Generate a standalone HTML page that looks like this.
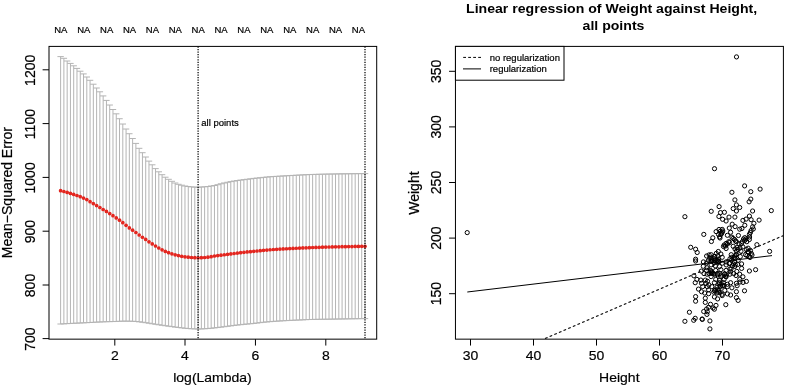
<!DOCTYPE html>
<html><head><meta charset="utf-8"><title>Linear regression of Weight against Height</title>
<style>html,body{margin:0;padding:0;background:#fff}body{width:785px;height:386px;overflow:hidden}svg{display:block;filter:blur(.4px)}text{font-family:"Liberation Sans",Arial,Helvetica,sans-serif;fill:#000}.t{font-size:14px;stroke:#000;stroke-width:.2px}.s{font-size:9.52px;stroke:#000;stroke-width:.2px}.b{font-size:14px;font-weight:bold}</style>
</head><body>
<svg width="785" height="386" viewBox="0 0 785 386">
<rect width="785" height="386" fill="#fff"/>
<path d="M60.61 56.60V324.01M57.41 56.60h6.4M57.41 324.01h6.4M63.88 58.31V323.83M60.68 58.31h6.4M60.68 323.83h6.4M67.16 61.01V323.65M63.96 61.01h6.4M63.96 323.65h6.4M70.43 63.41V323.48M67.23 63.41h6.4M67.23 323.48h6.4M73.70 65.81V323.31M70.50 65.81h6.4M70.50 323.31h6.4M76.98 68.41V323.15M73.78 68.41h6.4M73.78 323.15h6.4M80.25 71.21V323.00M77.05 71.21h6.4M77.05 323.00h6.4M83.52 73.91V322.84M80.32 73.91h6.4M80.32 322.84h6.4M86.80 77.01V322.68M83.60 77.01h6.4M83.60 322.68h6.4M90.07 80.31V322.50M86.87 80.31h6.4M86.87 322.50h6.4M93.34 84.21V322.33M90.14 84.21h6.4M90.14 322.33h6.4M96.61 88.01V322.15M93.41 88.01h6.4M93.41 322.15h6.4M99.89 91.81V321.99M96.69 91.81h6.4M96.69 321.99h6.4M103.16 95.91V321.85M99.96 95.91h6.4M99.96 321.85h6.4M106.43 100.42V321.73M103.23 100.42h6.4M103.23 321.73h6.4M109.71 105.02V321.65M106.51 105.02h6.4M106.51 321.65h6.4M112.98 109.51V321.56M109.78 109.51h6.4M109.78 321.56h6.4M116.25 113.82V321.45M113.05 113.82h6.4M113.05 321.45h6.4M119.52 118.72V321.29M116.32 118.72h6.4M116.32 321.29h6.4M122.80 124.02V321.16M119.60 124.02h6.4M119.60 321.16h6.4M126.07 129.02V321.16M122.87 129.02h6.4M122.87 321.16h6.4M129.34 133.72V321.21M126.14 133.72h6.4M126.14 321.21h6.4M132.62 138.52V321.29M129.42 138.52h6.4M129.42 321.29h6.4M135.89 143.42V321.47M132.69 143.42h6.4M132.69 321.47h6.4M139.16 148.32V321.82M135.96 148.32h6.4M135.96 321.82h6.4M142.44 152.71V322.23M139.24 152.71h6.4M139.24 322.23h6.4M145.71 157.01V322.69M142.51 157.01h6.4M142.51 322.69h6.4M148.98 161.11V323.23M145.78 161.11h6.4M145.78 323.23h6.4M152.25 164.81V323.75M149.06 164.81h6.4M149.06 323.75h6.4M155.53 168.61V324.26M152.33 168.61h6.4M152.33 324.26h6.4M158.80 171.81V324.77M155.60 171.81h6.4M155.60 324.77h6.4M162.07 174.71V325.26M158.87 174.71h6.4M158.87 325.26h6.4M165.35 177.21V325.73M162.15 177.21h6.4M162.15 325.73h6.4M168.62 179.31V326.19M165.42 179.31h6.4M165.42 326.19h6.4M171.89 181.31V326.64M168.69 181.31h6.4M168.69 326.64h6.4M175.17 183.00V327.09M171.97 183.00h6.4M171.97 327.09h6.4M178.44 184.30V327.49M175.24 184.30h6.4M175.24 327.49h6.4M181.71 185.20V327.88M178.51 185.20h6.4M178.51 327.88h6.4M184.98 186.00V328.25M181.78 186.00h6.4M181.78 328.25h6.4M188.26 186.50V328.54M185.06 186.50h6.4M185.06 328.54h6.4M191.53 186.90V328.75M188.33 186.90h6.4M188.33 328.75h6.4M194.80 187.10V328.93M191.60 187.10h6.4M191.60 328.93h6.4M198.08 187.20V329.00M194.88 187.20h6.4M194.88 329.00h6.4M201.35 187.00V328.93M198.15 187.00h6.4M198.15 328.93h6.4M204.62 186.80V328.76M201.42 186.80h6.4M201.42 328.76h6.4M207.90 186.50V328.55M204.70 186.50h6.4M204.70 328.55h6.4M211.17 186.00V328.27M207.97 186.00h6.4M207.97 328.27h6.4M214.44 185.50V327.91M211.24 185.50h6.4M211.24 327.91h6.4M217.72 184.71V327.54M214.52 184.71h6.4M214.52 327.54h6.4M220.99 183.77V327.15M217.79 183.77h6.4M217.79 327.15h6.4M224.26 182.97V326.73M221.06 182.97h6.4M221.06 326.73h6.4M227.53 182.27V326.31M224.33 182.27h6.4M224.33 326.31h6.4M230.81 181.64V325.86M227.61 181.64h6.4M227.61 325.86h6.4M234.08 181.06V325.44M230.88 181.06h6.4M230.88 325.44h6.4M237.35 180.54V325.06M234.15 180.54h6.4M234.15 325.06h6.4M240.63 180.08V324.70M237.43 180.08h6.4M237.43 324.70h6.4M243.90 179.67V324.36M240.70 179.67h6.4M240.70 324.36h6.4M247.17 179.26V324.05M243.97 179.26h6.4M243.97 324.05h6.4M250.44 178.83V323.76M247.25 178.83h6.4M247.25 323.76h6.4M253.72 178.42V323.44M250.52 178.42h6.4M250.52 323.44h6.4M256.99 178.07V323.05M253.79 178.07h6.4M253.79 323.05h6.4M260.26 177.74V322.63M257.06 177.74h6.4M257.06 322.63h6.4M263.54 177.39V322.26M260.34 177.39h6.4M260.34 322.26h6.4M266.81 177.04V321.94M263.61 177.04h6.4M263.61 321.94h6.4M270.08 176.75V321.67M266.88 176.75h6.4M266.88 321.67h6.4M273.36 176.55V321.41M270.16 176.55h6.4M270.16 321.41h6.4M276.63 176.35V321.19M273.43 176.35h6.4M273.43 321.19h6.4M279.90 176.15V320.98M276.70 176.15h6.4M276.70 320.98h6.4M283.18 175.96V320.79M279.98 175.96h6.4M279.98 320.79h6.4M286.45 175.77V320.60M283.25 175.77h6.4M283.25 320.60h6.4M289.72 175.58V320.43M286.52 175.58h6.4M286.52 320.43h6.4M292.99 175.41V320.27M289.79 175.41h6.4M289.79 320.27h6.4M296.27 175.23V320.13M293.07 175.23h6.4M293.07 320.13h6.4M299.54 175.05V319.99M296.34 175.05h6.4M296.34 319.99h6.4M302.81 174.87V319.84M299.61 174.87h6.4M299.61 319.84h6.4M306.09 174.71V319.67M302.89 174.71h6.4M302.89 319.67h6.4M309.36 174.57V319.53M306.16 174.57h6.4M306.16 319.53h6.4M312.63 174.46V319.44M309.43 174.46h6.4M309.43 319.44h6.4M315.90 174.36V319.37M312.70 174.36h6.4M312.70 319.37h6.4M319.18 174.27V319.32M315.98 174.27h6.4M315.98 319.32h6.4M322.45 174.19V319.28M319.25 174.19h6.4M319.25 319.28h6.4M325.72 174.12V319.24M322.52 174.12h6.4M322.52 319.24h6.4M329.00 174.06V319.19M325.80 174.06h6.4M325.80 319.19h6.4M332.27 174.00V319.13M329.07 174.00h6.4M329.07 319.13h6.4M335.54 173.94V319.08M332.34 173.94h6.4M332.34 319.08h6.4M338.82 173.89V319.02M335.62 173.89h6.4M335.62 319.02h6.4M342.09 173.84V318.97M338.89 173.84h6.4M338.89 318.97h6.4M345.36 173.80V318.92M342.16 173.80h6.4M342.16 318.92h6.4M348.63 173.76V318.86M345.44 173.76h6.4M345.44 318.86h6.4M351.91 173.72V318.81M348.71 173.72h6.4M348.71 318.81h6.4M355.18 173.68V318.76M351.98 173.68h6.4M351.98 318.76h6.4M358.45 173.65V318.70M355.25 173.65h6.4M355.25 318.70h6.4M361.73 173.62V318.65M358.53 173.62h6.4M358.53 318.65h6.4M365.00 173.60V318.60M361.80 173.60h6.4M361.80 318.60h6.4" stroke="#b4b4b4" stroke-width="1" fill="none"/>
<g fill="#e3261f">
<circle cx="60.61" cy="190.70" r="1.85"/>
<circle cx="63.88" cy="191.50" r="1.85"/>
<circle cx="67.16" cy="192.40" r="1.85"/>
<circle cx="70.43" cy="193.40" r="1.85"/>
<circle cx="73.70" cy="194.40" r="1.85"/>
<circle cx="76.98" cy="195.50" r="1.85"/>
<circle cx="80.25" cy="196.70" r="1.85"/>
<circle cx="83.52" cy="198.10" r="1.85"/>
<circle cx="86.80" cy="199.61" r="1.85"/>
<circle cx="90.07" cy="201.71" r="1.85"/>
<circle cx="93.34" cy="203.61" r="1.85"/>
<circle cx="96.61" cy="205.61" r="1.85"/>
<circle cx="99.89" cy="207.51" r="1.85"/>
<circle cx="103.16" cy="209.51" r="1.85"/>
<circle cx="106.43" cy="211.41" r="1.85"/>
<circle cx="109.71" cy="213.61" r="1.85"/>
<circle cx="112.98" cy="215.71" r="1.85"/>
<circle cx="116.25" cy="217.91" r="1.85"/>
<circle cx="119.52" cy="220.21" r="1.85"/>
<circle cx="122.80" cy="222.71" r="1.85"/>
<circle cx="126.07" cy="225.31" r="1.85"/>
<circle cx="129.34" cy="227.91" r="1.85"/>
<circle cx="132.62" cy="230.21" r="1.85"/>
<circle cx="135.89" cy="232.51" r="1.85"/>
<circle cx="139.16" cy="235.01" r="1.85"/>
<circle cx="142.44" cy="237.26" r="1.85"/>
<circle cx="145.71" cy="239.41" r="1.85"/>
<circle cx="148.98" cy="241.81" r="1.85"/>
<circle cx="152.25" cy="243.91" r="1.85"/>
<circle cx="155.53" cy="246.01" r="1.85"/>
<circle cx="158.80" cy="248.01" r="1.85"/>
<circle cx="162.07" cy="249.81" r="1.85"/>
<circle cx="165.35" cy="251.40" r="1.85"/>
<circle cx="168.62" cy="252.70" r="1.85"/>
<circle cx="171.89" cy="253.80" r="1.85"/>
<circle cx="175.17" cy="254.80" r="1.85"/>
<circle cx="178.44" cy="255.60" r="1.85"/>
<circle cx="181.71" cy="256.30" r="1.85"/>
<circle cx="184.98" cy="256.80" r="1.85"/>
<circle cx="188.26" cy="257.20" r="1.85"/>
<circle cx="191.53" cy="257.50" r="1.85"/>
<circle cx="194.80" cy="257.70" r="1.85"/>
<circle cx="198.08" cy="257.80" r="1.85"/>
<circle cx="201.35" cy="257.70" r="1.85"/>
<circle cx="204.62" cy="257.50" r="1.85"/>
<circle cx="207.90" cy="257.20" r="1.85"/>
<circle cx="211.17" cy="256.66" r="1.85"/>
<circle cx="214.44" cy="256.02" r="1.85"/>
<circle cx="217.72" cy="255.55" r="1.85"/>
<circle cx="220.99" cy="255.14" r="1.85"/>
<circle cx="224.26" cy="254.74" r="1.85"/>
<circle cx="227.53" cy="254.33" r="1.85"/>
<circle cx="230.81" cy="253.90" r="1.85"/>
<circle cx="234.08" cy="253.49" r="1.85"/>
<circle cx="237.35" cy="253.09" r="1.85"/>
<circle cx="240.63" cy="252.69" r="1.85"/>
<circle cx="243.90" cy="252.31" r="1.85"/>
<circle cx="247.17" cy="251.96" r="1.85"/>
<circle cx="250.44" cy="251.63" r="1.85"/>
<circle cx="253.72" cy="251.32" r="1.85"/>
<circle cx="256.99" cy="251.00" r="1.85"/>
<circle cx="260.26" cy="250.67" r="1.85"/>
<circle cx="263.54" cy="250.35" r="1.85"/>
<circle cx="266.81" cy="250.05" r="1.85"/>
<circle cx="270.08" cy="249.77" r="1.85"/>
<circle cx="273.36" cy="249.52" r="1.85"/>
<circle cx="276.63" cy="249.28" r="1.85"/>
<circle cx="279.90" cy="249.08" r="1.85"/>
<circle cx="283.18" cy="248.90" r="1.85"/>
<circle cx="286.45" cy="248.73" r="1.85"/>
<circle cx="289.72" cy="248.57" r="1.85"/>
<circle cx="292.99" cy="248.42" r="1.85"/>
<circle cx="296.27" cy="248.27" r="1.85"/>
<circle cx="299.54" cy="248.12" r="1.85"/>
<circle cx="302.81" cy="247.97" r="1.85"/>
<circle cx="306.09" cy="247.81" r="1.85"/>
<circle cx="309.36" cy="247.65" r="1.85"/>
<circle cx="312.63" cy="247.50" r="1.85"/>
<circle cx="315.90" cy="247.38" r="1.85"/>
<circle cx="319.18" cy="247.28" r="1.85"/>
<circle cx="322.45" cy="247.18" r="1.85"/>
<circle cx="325.72" cy="247.09" r="1.85"/>
<circle cx="329.00" cy="247.01" r="1.85"/>
<circle cx="332.27" cy="246.93" r="1.85"/>
<circle cx="335.54" cy="246.86" r="1.85"/>
<circle cx="338.82" cy="246.78" r="1.85"/>
<circle cx="342.09" cy="246.72" r="1.85"/>
<circle cx="345.36" cy="246.65" r="1.85"/>
<circle cx="348.63" cy="246.59" r="1.85"/>
<circle cx="351.91" cy="246.53" r="1.85"/>
<circle cx="355.18" cy="246.47" r="1.85"/>
<circle cx="358.45" cy="246.41" r="1.85"/>
<circle cx="361.73" cy="246.35" r="1.85"/>
<circle cx="365.00" cy="246.30" r="1.85"/>
</g>
<line x1="198.1" y1="46.4" x2="198.1" y2="339.15" stroke="#000" stroke-width="1.25" stroke-dasharray="1.25 1.3"/>
<line x1="365.0" y1="46.4" x2="365.0" y2="339.15" stroke="#000" stroke-width="1.25" stroke-dasharray="1.25 1.3"/>
<rect x="49.0" y="46.4" width="327.7" height="292.75" fill="none" stroke="#000" stroke-width="1"/>
<path d="M114.8 339.15v6.4M185.0 339.15v6.4M255.45 339.15v6.4M325.8 339.15v6.4" stroke="#000" stroke-width="1" fill="none"/>
<text class="t" transform="translate(114.8 359.7) scale(1 0.94)" text-anchor="middle">2</text>
<text class="t" transform="translate(185.0 359.7) scale(1 0.94)" text-anchor="middle">4</text>
<text class="t" transform="translate(255.45 359.7) scale(1 0.94)" text-anchor="middle">6</text>
<text class="t" transform="translate(325.8 359.7) scale(1 0.94)" text-anchor="middle">8</text>
<path d="M49.0 338.6h-6.4M49.0 285.0h-6.4M49.0 231.2h-6.4M49.0 177.4h-6.4M49.0 123.6h-6.4M49.0 69.8h-6.4" stroke="#000" stroke-width="1" fill="none"/>
<text class="t" transform="translate(34.7 339.1) rotate(-90)" text-anchor="middle">700</text>
<text class="t" transform="translate(34.7 285.5) rotate(-90)" text-anchor="middle">800</text>
<text class="t" transform="translate(34.7 231.7) rotate(-90)" text-anchor="middle">900</text>
<text class="t" transform="translate(34.7 177.9) rotate(-90)" text-anchor="middle">1000</text>
<text class="t" transform="translate(34.7 124.1) rotate(-90)" text-anchor="middle">1100</text>
<text class="t" transform="translate(34.7 70.3) rotate(-90)" text-anchor="middle">1200</text>
<text class="t" transform="translate(212.5 382.1) scale(1 0.94)" text-anchor="middle">log(Lambda)</text>
<text class="t" transform="translate(12.0 192.6) rotate(-90)" text-anchor="middle">Mean−Squared Error</text>
<text class="s" transform="translate(60.85 32.5) scale(1 0.94)" text-anchor="middle">NA</text>
<text class="s" transform="translate(83.74 32.5) scale(1 0.94)" text-anchor="middle">NA</text>
<text class="s" transform="translate(106.63 32.5) scale(1 0.94)" text-anchor="middle">NA</text>
<text class="s" transform="translate(129.52 32.5) scale(1 0.94)" text-anchor="middle">NA</text>
<text class="s" transform="translate(152.41 32.5) scale(1 0.94)" text-anchor="middle">NA</text>
<text class="s" transform="translate(175.30 32.5) scale(1 0.94)" text-anchor="middle">NA</text>
<text class="s" transform="translate(198.19 32.5) scale(1 0.94)" text-anchor="middle">NA</text>
<text class="s" transform="translate(221.08 32.5) scale(1 0.94)" text-anchor="middle">NA</text>
<text class="s" transform="translate(243.97 32.5) scale(1 0.94)" text-anchor="middle">NA</text>
<text class="s" transform="translate(266.86 32.5) scale(1 0.94)" text-anchor="middle">NA</text>
<text class="s" transform="translate(289.75 32.5) scale(1 0.94)" text-anchor="middle">NA</text>
<text class="s" transform="translate(312.64 32.5) scale(1 0.94)" text-anchor="middle">NA</text>
<text class="s" transform="translate(335.53 32.5) scale(1 0.94)" text-anchor="middle">NA</text>
<text class="s" transform="translate(358.42 32.5) scale(1 0.94)" text-anchor="middle">NA</text>
<text class="s" transform="translate(201.3 125.9) scale(1 0.94)">all points</text>
<clipPath id="c2"><rect x="455.45" y="46.4" width="327.95" height="292.75"/></clipPath>
<g clip-path="url(#c2)">
<g fill="none" stroke="#000" stroke-width="1.0">
<circle cx="736.5" cy="56.9" r="2.1"/>
<circle cx="467.2" cy="232.6" r="2.1"/>
<circle cx="714.5" cy="168.7" r="2.1"/>
<circle cx="744.6" cy="185.9" r="2.1"/>
<circle cx="760.1" cy="189.1" r="2.1"/>
<circle cx="731.9" cy="192.3" r="2.1"/>
<circle cx="750.8" cy="191.7" r="2.1"/>
<circle cx="734.9" cy="199.9" r="2.1"/>
<circle cx="750.8" cy="199.1" r="2.1"/>
<circle cx="749.1" cy="201.8" r="2.1"/>
<circle cx="736.4" cy="204.9" r="2.1"/>
<circle cx="719.1" cy="206.6" r="2.1"/>
<circle cx="739.7" cy="207.5" r="2.1"/>
<circle cx="733.2" cy="208.6" r="2.1"/>
<circle cx="711.2" cy="211.3" r="2.1"/>
<circle cx="720.5" cy="212.6" r="2.1"/>
<circle cx="724.4" cy="212.3" r="2.1"/>
<circle cx="736.4" cy="211.0" r="2.1"/>
<circle cx="752.6" cy="211.0" r="2.1"/>
<circle cx="684.9" cy="216.7" r="2.1"/>
<circle cx="718.9" cy="216.5" r="2.1"/>
<circle cx="729.0" cy="217.1" r="2.1"/>
<circle cx="734.9" cy="217.1" r="2.1"/>
<circle cx="749.4" cy="216.1" r="2.1"/>
<circle cx="722.6" cy="219.3" r="2.1"/>
<circle cx="726.1" cy="221.0" r="2.1"/>
<circle cx="742.9" cy="220.4" r="2.1"/>
<circle cx="746.1" cy="219.1" r="2.1"/>
<circle cx="751.1" cy="219.7" r="2.1"/>
<circle cx="759.1" cy="220.1" r="2.1"/>
<circle cx="753.9" cy="223.3" r="2.1"/>
<circle cx="732.2" cy="224.2" r="2.1"/>
<circle cx="744.8" cy="225.3" r="2.1"/>
<circle cx="735.1" cy="226.6" r="2.1"/>
<circle cx="752.6" cy="226.8" r="2.1"/>
<circle cx="729.3" cy="228.1" r="2.1"/>
<circle cx="739.7" cy="229.2" r="2.1"/>
<circle cx="741.9" cy="228.5" r="2.1"/>
<circle cx="722.2" cy="229.4" r="2.1"/>
<circle cx="751.1" cy="230.5" r="2.1"/>
<circle cx="716.1" cy="231.6" r="2.1"/>
<circle cx="720.2" cy="231.4" r="2.1"/>
<circle cx="722.2" cy="232.3" r="2.1"/>
<circle cx="730.6" cy="232.3" r="2.1"/>
<circle cx="703.8" cy="234.4" r="2.1"/>
<circle cx="720.9" cy="234.6" r="2.1"/>
<circle cx="727.4" cy="235.3" r="2.1"/>
<circle cx="749.4" cy="234.4" r="2.1"/>
<circle cx="738.4" cy="235.5" r="2.1"/>
<circle cx="719.6" cy="236.9" r="2.1"/>
<circle cx="731.9" cy="237.2" r="2.1"/>
<circle cx="712.8" cy="237.8" r="2.1"/>
<circle cx="744.8" cy="237.6" r="2.1"/>
<circle cx="734.5" cy="239.5" r="2.1"/>
<circle cx="749.4" cy="239.5" r="2.1"/>
<circle cx="744.8" cy="240.4" r="2.1"/>
<circle cx="711.4" cy="241.5" r="2.1"/>
<circle cx="728.7" cy="241.7" r="2.1"/>
<circle cx="736.4" cy="241.7" r="2.1"/>
<circle cx="742.3" cy="241.7" r="2.1"/>
<circle cx="746.8" cy="241.7" r="2.1"/>
<circle cx="726.1" cy="243.4" r="2.1"/>
<circle cx="739.0" cy="243.7" r="2.1"/>
<circle cx="724.1" cy="245.0" r="2.1"/>
<circle cx="756.9" cy="244.7" r="2.1"/>
<circle cx="690.7" cy="247.3" r="2.1"/>
<circle cx="733.2" cy="246.3" r="2.1"/>
<circle cx="737.1" cy="247.6" r="2.1"/>
<circle cx="742.9" cy="246.9" r="2.1"/>
<circle cx="748.1" cy="248.2" r="2.1"/>
<circle cx="695.6" cy="249.2" r="2.1"/>
<circle cx="726.1" cy="248.5" r="2.1"/>
<circle cx="697.2" cy="252.5" r="2.1"/>
<circle cx="718.3" cy="251.5" r="2.1"/>
<circle cx="736.4" cy="251.2" r="2.1"/>
<circle cx="741.0" cy="251.2" r="2.1"/>
<circle cx="748.1" cy="251.7" r="2.1"/>
<circle cx="751.3" cy="253.4" r="2.1"/>
<circle cx="716.3" cy="253.4" r="2.1"/>
<circle cx="720.9" cy="254.0" r="2.1"/>
<circle cx="711.2" cy="254.7" r="2.1"/>
<circle cx="731.2" cy="254.7" r="2.1"/>
<circle cx="736.4" cy="254.7" r="2.1"/>
<circle cx="745.5" cy="254.7" r="2.1"/>
<circle cx="706.6" cy="256.0" r="2.1"/>
<circle cx="714.4" cy="256.6" r="2.1"/>
<circle cx="722.2" cy="257.3" r="2.1"/>
<circle cx="731.9" cy="257.3" r="2.1"/>
<circle cx="740.3" cy="256.6" r="2.1"/>
<circle cx="749.4" cy="256.4" r="2.1"/>
<circle cx="695.6" cy="259.2" r="2.1"/>
<circle cx="709.9" cy="258.6" r="2.1"/>
<circle cx="718.3" cy="259.0" r="2.1"/>
<circle cx="771.3" cy="210.6" r="2.1"/>
<circle cx="769.6" cy="251.4" r="2.1"/>
<circle cx="695.6" cy="261.0" r="2.1"/>
<circle cx="703.4" cy="261.9" r="2.1"/>
<circle cx="711.2" cy="261.3" r="2.1"/>
<circle cx="714.4" cy="262.6" r="2.1"/>
<circle cx="718.3" cy="261.9" r="2.1"/>
<circle cx="722.2" cy="263.2" r="2.1"/>
<circle cx="726.1" cy="261.9" r="2.1"/>
<circle cx="729.9" cy="263.2" r="2.1"/>
<circle cx="734.5" cy="261.9" r="2.1"/>
<circle cx="737.7" cy="264.5" r="2.1"/>
<circle cx="741.6" cy="263.9" r="2.1"/>
<circle cx="732.5" cy="265.8" r="2.1"/>
<circle cx="719.6" cy="266.5" r="2.1"/>
<circle cx="741.6" cy="268.4" r="2.1"/>
<circle cx="749.4" cy="271.0" r="2.1"/>
<circle cx="755.6" cy="269.7" r="2.1"/>
<circle cx="706.6" cy="270.4" r="2.1"/>
<circle cx="711.2" cy="271.0" r="2.1"/>
<circle cx="715.7" cy="270.4" r="2.1"/>
<circle cx="720.9" cy="269.7" r="2.1"/>
<circle cx="726.1" cy="270.4" r="2.1"/>
<circle cx="730.6" cy="271.7" r="2.1"/>
<circle cx="704.0" cy="273.6" r="2.1"/>
<circle cx="709.2" cy="273.6" r="2.1"/>
<circle cx="714.4" cy="274.2" r="2.1"/>
<circle cx="719.6" cy="273.6" r="2.1"/>
<circle cx="724.8" cy="274.2" r="2.1"/>
<circle cx="729.9" cy="274.2" r="2.1"/>
<circle cx="733.8" cy="273.6" r="2.1"/>
<circle cx="739.7" cy="274.2" r="2.1"/>
<circle cx="693.9" cy="275.8" r="2.1"/>
<circle cx="720.9" cy="276.8" r="2.1"/>
<circle cx="726.1" cy="276.8" r="2.1"/>
<circle cx="742.9" cy="276.8" r="2.1"/>
<circle cx="696.9" cy="279.4" r="2.1"/>
<circle cx="700.8" cy="280.1" r="2.1"/>
<circle cx="705.3" cy="280.1" r="2.1"/>
<circle cx="715.7" cy="279.4" r="2.1"/>
<circle cx="719.6" cy="280.1" r="2.1"/>
<circle cx="724.1" cy="279.4" r="2.1"/>
<circle cx="739.7" cy="279.4" r="2.1"/>
<circle cx="746.4" cy="281.4" r="2.1"/>
<circle cx="695.2" cy="282.7" r="2.1"/>
<circle cx="701.5" cy="283.3" r="2.1"/>
<circle cx="706.0" cy="283.3" r="2.1"/>
<circle cx="714.4" cy="282.7" r="2.1"/>
<circle cx="718.9" cy="284.0" r="2.1"/>
<circle cx="723.5" cy="282.7" r="2.1"/>
<circle cx="730.6" cy="282.7" r="2.1"/>
<circle cx="736.4" cy="283.3" r="2.1"/>
<circle cx="702.7" cy="286.6" r="2.1"/>
<circle cx="707.3" cy="286.6" r="2.1"/>
<circle cx="711.8" cy="286.6" r="2.1"/>
<circle cx="717.0" cy="287.2" r="2.1"/>
<circle cx="727.4" cy="286.6" r="2.1"/>
<circle cx="731.9" cy="287.8" r="2.1"/>
<circle cx="698.5" cy="289.1" r="2.1"/>
<circle cx="708.6" cy="289.8" r="2.1"/>
<circle cx="715.7" cy="289.8" r="2.1"/>
<circle cx="718.9" cy="290.4" r="2.1"/>
<circle cx="724.8" cy="290.4" r="2.1"/>
<circle cx="736.4" cy="291.7" r="2.1"/>
<circle cx="744.5" cy="290.8" r="2.1"/>
<circle cx="701.5" cy="291.7" r="2.1"/>
<circle cx="704.7" cy="293.0" r="2.1"/>
<circle cx="708.6" cy="293.7" r="2.1"/>
<circle cx="717.0" cy="293.0" r="2.1"/>
<circle cx="722.2" cy="294.3" r="2.1"/>
<circle cx="730.6" cy="295.0" r="2.1"/>
<circle cx="695.6" cy="296.6" r="2.1"/>
<circle cx="705.3" cy="298.2" r="2.1"/>
<circle cx="714.4" cy="296.9" r="2.1"/>
<circle cx="717.6" cy="298.9" r="2.1"/>
<circle cx="736.4" cy="297.6" r="2.1"/>
<circle cx="695.6" cy="301.2" r="2.1"/>
<circle cx="705.3" cy="302.4" r="2.1"/>
<circle cx="738.1" cy="300.4" r="2.1"/>
<circle cx="722.2" cy="295.6" r="2.1"/>
<circle cx="725.8" cy="304.7" r="2.1"/>
<circle cx="710.5" cy="304.3" r="2.1"/>
<circle cx="716.0" cy="305.4" r="2.1"/>
<circle cx="708.6" cy="307.3" r="2.1"/>
<circle cx="713.1" cy="308.0" r="2.1"/>
<circle cx="706.6" cy="309.0" r="2.1"/>
<circle cx="714.4" cy="309.2" r="2.1"/>
<circle cx="703.7" cy="311.5" r="2.1"/>
<circle cx="707.3" cy="311.8" r="2.1"/>
<circle cx="689.4" cy="312.2" r="2.1"/>
<circle cx="706.9" cy="314.4" r="2.1"/>
<circle cx="695.2" cy="318.3" r="2.1"/>
<circle cx="693.7" cy="320.3" r="2.1"/>
<circle cx="702.1" cy="319.0" r="2.1"/>
<circle cx="702.3" cy="319.4" r="2.1"/>
<circle cx="684.9" cy="321.3" r="2.1"/>
<circle cx="709.9" cy="320.9" r="2.1"/>
<circle cx="709.9" cy="328.9" r="2.1"/>
<circle cx="719.0" cy="229.5" r="2.1"/>
<circle cx="721.5" cy="233.5" r="2.1"/>
<circle cx="718.5" cy="234.5" r="2.1"/>
<circle cx="720.0" cy="238.0" r="2.1"/>
<circle cx="722.8" cy="231.0" r="2.1"/>
<circle cx="723.5" cy="246.5" r="2.1"/>
<circle cx="725.5" cy="246.0" r="2.1"/>
<circle cx="727.5" cy="244.0" r="2.1"/>
<circle cx="729.5" cy="242.5" r="2.1"/>
<circle cx="733.0" cy="238.5" r="2.1"/>
<circle cx="735.5" cy="241.0" r="2.1"/>
<circle cx="743.5" cy="239.0" r="2.1"/>
<circle cx="745.8" cy="239.0" r="2.1"/>
<circle cx="741.5" cy="243.5" r="2.1"/>
<circle cx="738.0" cy="249.5" r="2.1"/>
<circle cx="740.0" cy="248.0" r="2.1"/>
<circle cx="735.0" cy="249.0" r="2.1"/>
<circle cx="746.5" cy="249.5" r="2.1"/>
<circle cx="748.5" cy="252.5" r="2.1"/>
<circle cx="750.5" cy="250.5" r="2.1"/>
<circle cx="747.0" cy="255.5" r="2.1"/>
<circle cx="750.0" cy="257.5" r="2.1"/>
<circle cx="752.0" cy="255.0" r="2.1"/>
<circle cx="753.3" cy="229.0" r="2.1"/>
<circle cx="750.4" cy="232.6" r="2.1"/>
<circle cx="749.6" cy="237.0" r="2.1"/>
<circle cx="717.8" cy="255.8" r="2.1"/>
<circle cx="713.7" cy="292.1" r="2.1"/>
<circle cx="727.4" cy="293.9" r="2.1"/>
<circle cx="711.1" cy="276.6" r="2.1"/>
<circle cx="724.0" cy="285.3" r="2.1"/>
<circle cx="717.4" cy="273.5" r="2.1"/>
<circle cx="734.8" cy="266.5" r="2.1"/>
<circle cx="726.2" cy="264.9" r="2.1"/>
<circle cx="729.9" cy="268.9" r="2.1"/>
<circle cx="721.2" cy="283.9" r="2.1"/>
<circle cx="708.9" cy="284.9" r="2.1"/>
<circle cx="743.0" cy="282.4" r="2.1"/>
<circle cx="703.3" cy="266.3" r="2.1"/>
<circle cx="707.0" cy="267.8" r="2.1"/>
<circle cx="715.3" cy="265.9" r="2.1"/>
<circle cx="720.7" cy="286.3" r="2.1"/>
<circle cx="736.0" cy="275.5" r="2.1"/>
<circle cx="740.0" cy="282.0" r="2.1"/>
<circle cx="707.5" cy="281.3" r="2.1"/>
<circle cx="736.8" cy="271.4" r="2.1"/>
<circle cx="727.4" cy="284.3" r="2.1"/>
<circle cx="737.1" cy="285.7" r="2.1"/>
<circle cx="701.3" cy="271.1" r="2.1"/>
<circle cx="706.6" cy="262.9" r="2.1"/>
<circle cx="730.0" cy="258.7" r="2.1"/>
<circle cx="738.2" cy="260.2" r="2.1"/>
<circle cx="718.8" cy="261.6" r="2.1"/>
<circle cx="708.4" cy="260.5" r="2.1"/>
<circle cx="714.1" cy="258.8" r="2.1"/>
<circle cx="711.1" cy="264.9" r="2.1"/>
<circle cx="712.2" cy="257.6" r="2.1"/>
<circle cx="716.9" cy="260.4" r="2.1"/>
<circle cx="713.7" cy="262.2" r="2.1"/>
<circle cx="716.2" cy="261.0" r="2.1"/>
<circle cx="718.3" cy="260.8" r="2.1"/>
<circle cx="711.2" cy="259.0" r="2.1"/>
<circle cx="711.7" cy="260.6" r="2.1"/>
<circle cx="709.1" cy="254.9" r="2.1"/>
<circle cx="714.4" cy="256.3" r="2.1"/>
<circle cx="729.2" cy="263.5" r="2.1"/>
<circle cx="733.5" cy="264.0" r="2.1"/>
<circle cx="734.1" cy="257.5" r="2.1"/>
<circle cx="731.6" cy="259.9" r="2.1"/>
<circle cx="735.0" cy="258.7" r="2.1"/>
<circle cx="735.0" cy="255.9" r="2.1"/>
<circle cx="736.1" cy="254.8" r="2.1"/>
<circle cx="735.3" cy="264.8" r="2.1"/>
<circle cx="725.6" cy="276.4" r="2.1"/>
<circle cx="707.1" cy="274.2" r="2.1"/>
<circle cx="726.4" cy="274.8" r="2.1"/>
<circle cx="711.5" cy="273.4" r="2.1"/>
<circle cx="731.0" cy="269.1" r="2.1"/>
<circle cx="721.3" cy="275.1" r="2.1"/>
<circle cx="713.1" cy="273.8" r="2.1"/>
<circle cx="710.5" cy="270.6" r="2.1"/>
<circle cx="712.3" cy="272.9" r="2.1"/>
<circle cx="717.4" cy="274.7" r="2.1"/>
<circle cx="711.4" cy="272.2" r="2.1"/>
<circle cx="724.7" cy="273.8" r="2.1"/>
<circle cx="714.8" cy="290.6" r="2.1"/>
<circle cx="717.5" cy="289.7" r="2.1"/>
<circle cx="720.0" cy="292.4" r="2.1"/>
<circle cx="719.4" cy="282.6" r="2.1"/>
<circle cx="714.6" cy="290.8" r="2.1"/>
<circle cx="718.2" cy="292.1" r="2.1"/>
<circle cx="719.9" cy="286.1" r="2.1"/>
<circle cx="722.5" cy="285.9" r="2.1"/>
</g>
<line x1="467.3" y1="292.0" x2="772.0" y2="255.6" stroke="#000" stroke-width="1"/>
<line x1="545.0" y1="338.6" x2="783.6" y2="235.5" stroke="#000" stroke-width="1.1" stroke-dasharray="2.8 2.25"/>
</g>
<rect x="455.45" y="46.4" width="327.95" height="292.75" fill="none" stroke="#000" stroke-width="1"/>
<path d="M470.5 339.15v6.4M533.5 339.15v6.4M596.5 339.15v6.4M659.5 339.15v6.4M722.5 339.15v6.4" stroke="#000" stroke-width="1" fill="none"/>
<text class="t" transform="translate(470.5 359.7) scale(1 0.94)" text-anchor="middle">30</text>
<text class="t" transform="translate(533.5 359.7) scale(1 0.94)" text-anchor="middle">40</text>
<text class="t" transform="translate(596.5 359.7) scale(1 0.94)" text-anchor="middle">50</text>
<text class="t" transform="translate(659.5 359.7) scale(1 0.94)" text-anchor="middle">60</text>
<text class="t" transform="translate(722.5 359.7) scale(1 0.94)" text-anchor="middle">70</text>
<path d="M455.45 293.7h-6.4M455.45 238.1h-6.4M455.45 182.5h-6.4M455.45 126.9h-6.4M455.45 71.3h-6.4" stroke="#000" stroke-width="1" fill="none"/>
<text class="t" transform="translate(441.4 293.7) rotate(-90)" text-anchor="middle">150</text>
<text class="t" transform="translate(441.4 238.1) rotate(-90)" text-anchor="middle">200</text>
<text class="t" transform="translate(441.4 182.5) rotate(-90)" text-anchor="middle">250</text>
<text class="t" transform="translate(441.4 126.9) rotate(-90)" text-anchor="middle">300</text>
<text class="t" transform="translate(441.4 71.3) rotate(-90)" text-anchor="middle">350</text>
<text class="t" transform="translate(619.3 382.1) scale(1 0.94)" text-anchor="middle">Height</text>
<text class="t" transform="translate(418.9 193.1) rotate(-90)" text-anchor="middle">Weight</text>
<text class="b" transform="translate(611.6 12.8) scale(1.008 .93)" text-anchor="middle">Linear regression of Weight against Height,</text>
<text class="b" transform="translate(613.5 29.9) scale(1.008 .93)" text-anchor="middle">all points</text>
<rect x="455.45" y="46.4" width="108.55000000000001" height="33.800000000000004" fill="#fff" stroke="#000" stroke-width="1"/>
<line x1="463.2" y1="57.4" x2="481.2" y2="57.4" stroke="#000" stroke-width="1" stroke-dasharray="2.8 2.2"/>
<line x1="463.0" y1="68.9" x2="481.0" y2="68.9" stroke="#000" stroke-width="1"/>
<text class="s" transform="translate(489.7 60.7) scale(1 0.94)">no regularization</text>
<text class="s" transform="translate(489.7 72.0) scale(1 0.94)">regularization</text>
</svg></body></html>
